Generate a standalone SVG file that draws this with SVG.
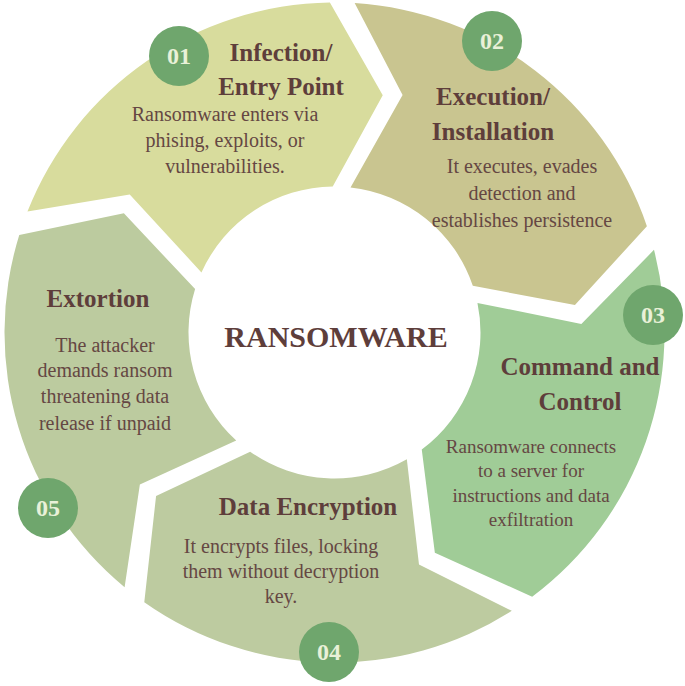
<svg xmlns="http://www.w3.org/2000/svg" width="685" height="686" viewBox="0 0 685 686">
<style>
.h{font-family:"Liberation Serif","Times New Roman",serif;font-weight:bold;font-size:25px;fill:#5e3e3b;text-anchor:middle}
.b{font-family:"Liberation Serif","Times New Roman",serif;font-size:20px;fill:#654743;text-anchor:middle}
.b3{font-size:19px}
.n{fill:#6fa66d}
.nt{font-family:"Liberation Serif","Times New Roman",serif;font-weight:bold;font-size:24px;fill:#e9f1d8;text-anchor:middle}
.c{font-family:"Liberation Serif","Times New Roman",serif;font-weight:bold;font-size:30px;fill:#5e3e3b;text-anchor:middle}
</style>
<defs>
<path id="seg" d="M -307.04 -120.94 A 330 330 0 0 1 -4.61 -329.97 L 48.25 -237.14 L -1.78 -145.99 A 146 146 0 0 0 -133.06 -60.08 L -204.77 -138.12 Z"/>
</defs>
<rect width="685" height="686" fill="#ffffff"/>
<g id="connectors"></g>
<g id="node1">
<use href="#seg" transform="translate(334.5 332.5)" fill="#d8dc9d"/>
<circle class="n" cx="179" cy="56" r="30"/>
<text class="nt" x="179" y="64">01</text>
<text class="h" x="281" y="61">Infection/</text>
<text class="h" x="281" y="95">Entry Point</text>
<text class="b" x="225" y="121">Ransomware enters via</text>
<text class="b" x="225" y="147">phising, exploits, or</text>
<text class="b" x="225" y="173">vulnerabilities.</text>
</g>
<g id="node2">
<use href="#seg" transform="translate(334.5 332.5) rotate(72)" fill="#c9c590"/>
<circle class="n" cx="492" cy="41" r="30"/>
<text class="nt" x="492" y="49">02</text>
<text class="h" x="493" y="105">Execution/</text>
<text class="h" x="493" y="140">Installation</text>
<text class="b" x="522" y="173">It executes, evades</text>
<text class="b" x="522" y="200">detection and</text>
<text class="b" x="522" y="227">establishes persistence</text>
</g>
<g id="node3">
<use href="#seg" transform="translate(334.5 332.5) rotate(144)" fill="#a0cc97"/>
<circle class="n" cx="653" cy="315" r="30"/>
<text class="nt" x="653" y="323">03</text>
<text class="h" x="580" y="375">Command and</text>
<text class="h" x="580" y="410">Control</text>
<text class="b b3" x="531" y="453">Ransomware connects</text>
<text class="b b3" x="531" y="477">to a server for</text>
<text class="b b3" x="531" y="502">instructions and data</text>
<text class="b b3" x="531" y="526">exfiltration</text>
</g>
<g id="node4">
<use href="#seg" transform="translate(334.5 332.5) rotate(216)" fill="#bdcba0"/>
<circle class="n" cx="329" cy="652" r="30"/>
<text class="nt" x="329" y="660">04</text>
<text class="h" x="308" y="515">Data Encryption</text>
<text class="b" x="281" y="553">It encrypts files, locking</text>
<text class="b" x="281" y="578">them without decryption</text>
<text class="b" x="281" y="603">key.</text>
</g>
<g id="node5">
<use href="#seg" transform="translate(334.5 332.5) rotate(288)" fill="#bccb9f"/>
<circle class="n" cx="48" cy="508" r="30"/>
<text class="nt" x="48" y="516">05</text>
<text class="h" x="98" y="307">Extortion</text>
<text class="b" x="105" y="352">The attacker</text>
<text class="b" x="105" y="377">demands ransom</text>
<text class="b" x="105" y="403">threatening data</text>
<text class="b" x="105" y="430">release if unpaid</text>
</g>
<g id="center">
<text class="c" x="336" y="347">RANSOMWARE</text>
</g>
</svg>
